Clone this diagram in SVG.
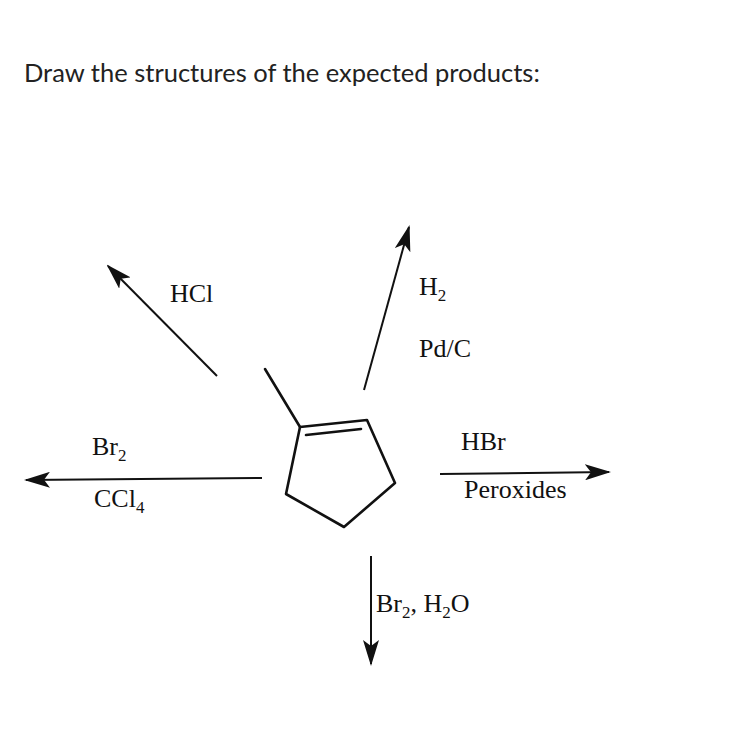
<svg xmlns="http://www.w3.org/2000/svg" width="732" height="736" viewBox="0 0 732 736">
<style>
.b{stroke:#111;stroke-width:2.6;fill:none;stroke-linecap:round;stroke-linejoin:round}
.a{stroke:#111;stroke-width:2;fill:none}
.t{font-family:"Liberation Serif",serif;font-size:26px;fill:#111}
.s{font-size:17px}
</style>
<defs><marker id="ah" viewBox="0 0 26 16" refX="24" refY="8" markerWidth="26" markerHeight="16" markerUnits="userSpaceOnUse" orient="auto"><path d="M0,0 L26,8 L0,16 L6,8 Z" fill="#111"/></marker></defs>
<rect width="732" height="736" fill="#fff"/>
<text x="24" y="82" font-family="Lato,sans-serif" font-size="25.5" fill="#222">Draw the structures of the expected products:</text>
<g id="cyclopentene">
<path class="b" d="M265,369 L300,427"/>
<path class="b" d="M306,435 L361,429"/>
<path class="b" d="M300,427 L367,420 L395,483 L344,527 L286,494 Z"/>
</g>
<g id="connectors">
<line class="a" x1="217" y1="376" x2="108" y2="266" marker-end="url(#ah)"/>
<line class="a" x1="364" y1="390" x2="409" y2="227" marker-end="url(#ah)"/>
<line class="a" x1="262" y1="478" x2="26" y2="480" marker-end="url(#ah)"/>
<line class="a" x1="440" y1="474" x2="609" y2="472" marker-end="url(#ah)"/>
<line class="a" x1="371" y1="556" x2="371" y2="664" marker-end="url(#ah)"/>
</g>
<g id="labels">
<text class="t" x="170" y="302">HCl</text>
<text class="t" x="419" y="295">H<tspan class="s" dy="6">2</tspan></text>
<text class="t" x="419" y="357">Pd/C</text>
<text class="t" x="92" y="455">Br<tspan class="s" dy="6">2</tspan></text>
<text class="t" x="94" y="507">CCl<tspan class="s" dy="6">4</tspan></text>
<text class="t" x="461" y="450">HBr</text>
<text class="t" x="464" y="498">Peroxides</text>
<text class="t" x="376" y="612">Br<tspan class="s" dy="6">2</tspan><tspan dy="-6">, H</tspan><tspan class="s" dy="6">2</tspan><tspan dy="-6">O</tspan></text>
</g>
</svg>
